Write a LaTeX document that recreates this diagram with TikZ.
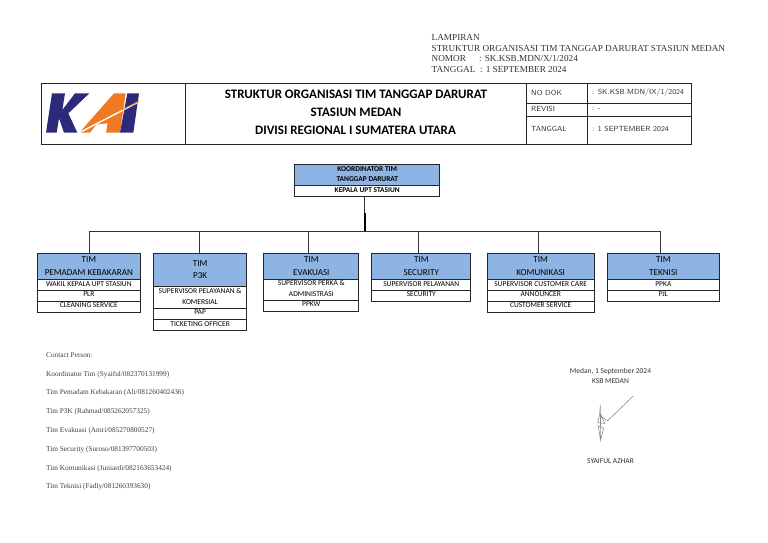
\documentclass[tikz,border=0pt]{standalone}
\usepackage{fontspec}
\setmainfont{Liberation Serif}
\newfontfamily\boxfont{Carlito}
\definecolor{timblue}{HTML}{8DB4E2}
\definecolor{kainavy}{HTML}{2D2A7A}
\definecolor{kaiorange}{HTML}{F07A22}
\tikzset{
  cell/.style={draw=black!85, line width=1pt, anchor=north west, inner sep=0pt, text depth=2.5pt, font=\boxfont\fontsize{7.5}{8.5}\selectfont, align=center},
  headcell/.style={cell, fill=timblue, text depth=1.5pt, font=\boxfont\fontsize{9.1}{12.4}\selectfont},
  link/.style={draw=black!80, line width=1pt},
  frame/.style={draw=black!85, line width=1pt},
  pagetext/.style={anchor=base west, inner sep=0pt, font=\fontsize{9.2}{11}\selectfont, text=black!80},
  contact/.style={anchor=west, inner sep=0pt, font=\fontsize{7.3}{8}\selectfont, text=black!75},
  signtext/.style={inner sep=0pt, font=\boxfont\fontsize{7.5}{8}\selectfont, text=black!80},
  doccell/.style={anchor=west, inner sep=0pt, font=\fontsize{7.4}{8}\selectfont\sffamily, text=black!80},
  titletext/.style={inner sep=0pt, font=\boxfont\bfseries\fontsize{12.95}{15}\selectfont}
}
\begin{document}
\begin{tikzpicture}[x=1pt,y=-1pt]
\useasboundingbox (0,0) rectangle (768,543);
\fill[white] (0,0) rectangle (768,543);
% lampiran
\node[pagetext] (lamp1) at (431.5,40.5) {LAMPIRAN};
\node[pagetext] (lamp2) at (431.5,51.5) {STRUKTUR ORGANISASI TIM TANGGAP DARURAT STASIUN MEDAN};
\node[pagetext] (lamp3) at (431.5,62) {NOMOR};
\node[pagetext] (lamp3b) at (479,62) {: SK.KSB.MDN/X/1/2024};
\node[pagetext] (lamp4) at (431.5,73) {TANGGAL};
\node[pagetext] (lamp4b) at (480,73) {: 1 SEPTEMBER 2024};
% kop
\draw[frame] (41,83.5) rectangle (691,144);
\draw[frame] (185.5,83.5) -- (185.5,144);
\draw[frame] (526,83.5) -- (526,144);
\draw[frame] (587.5,83.5) -- (587.5,144);
\draw[frame] (526,103) -- (691,103);
\draw[frame] (526,116.7) -- (691,116.7);
\node[titletext] (title1) at (356,94.5) {STRUKTUR ORGANISASI TIM TANGGAP DARURAT};
\node[titletext] (title2) at (356,112.5) {STASIUN MEDAN};
\node[titletext] (title3) at (355.5,130.5) {DIVISI REGIONAL I SUMATERA UTARA};
\node[doccell] (nodok) at (531,93) {NO DOK};
\node[doccell] (nodokv) at (592,93) {: SK.KSB.MDN/IX/1/2024};
\node[doccell] (revisi) at (531,108.5) {REVISI};
\node[doccell] (revisiv) at (592,108.5) {: -};
\node[doccell] (tgl) at (531,128.5) {TANGGAL};
\node[doccell] (tglv) at (592,128.5) {: 1 SEPTEMBER 2024};
% logo
\begin{scope}[shift={(40,85)},scale=1/3]
\fill[kainavy] (18,143) -- (36,25) -- (75,25) -- (67,75) -- (105,25) -- (148,25) -- (85,85) -- (112,143) -- (72,143) -- (57,100) -- (50,143) -- cycle;
\fill[kaiorange] (118,143) -- (222,25) -- (257,25) -- (240,143) -- (198,143) -- (203,115) -- (170,118) -- (150,143) -- cycle;
\fill[kainavy] (262,25) -- (297,25) -- (280,143) -- (240,143) -- cycle;
\draw[white, line width=1.4pt] (118,143) -- (240,80) -- (297,50);
\draw[kaiorange, line width=.8pt] (245,75) -- (297,49);
\end{scope}
% koordinator
\node[headcell, minimum width=145pt, minimum height=21pt, font=\boxfont\bfseries\fontsize{7.4}{10.3}\selectfont] (koord) at (294.3,164) {KOORDINATOR TIM\\TANGGAP DARURAT};
\node[cell, minimum width=145pt, minimum height=10.7pt, font=\boxfont\bfseries\fontsize{7.4}{8}\selectfont] (kepala) at (294.3,185) {KEPALA UPT STASIUN};
% tim pemadam
\node[headcell, minimum width=103.3pt, minimum height=26.3pt] (pemadam) at (36.7,253) {TIM\\PEMADAM KEBAKARAN};
\node[cell, minimum width=103.3pt, minimum height=10.4pt] (pemadam1) at (36.7,279.3) {WAKIL KEPALA UPT STASIUN};
\node[cell, minimum width=103.3pt, minimum height=11pt] (pemadam2) at (36.7,289.7) {PLR};
\node[cell, minimum width=103.3pt, minimum height=11pt] (pemadam3) at (36.7,300.7) {CLEANING SERVICE};
% tim p3k
\node[headcell, minimum width=92.7pt, minimum height=33.3pt] (ptiga) at (153.3,253) {TIM\\P3K};
\node[cell, minimum width=92.7pt, minimum height=21.4pt, font=\boxfont\fontsize{7.5}{11}\selectfont] (ptiga1) at (153.3,286.3) {SUPERVISOR PELAYANAN \&\\KOMERSIAL};
\node[cell, minimum width=92.7pt, minimum height=11pt] (ptiga2) at (153.3,307.7) {PAP};
\node[cell, minimum width=92.7pt, minimum height=11.3pt] (ptiga3) at (153.3,318.7) {TICKETING OFFICER};
% tim evakuasi
\node[headcell, minimum width=95pt, minimum height=26.3pt] (evakuasi) at (263.3,253) {TIM\\EVAKUASI};
\node[cell, minimum width=95pt, minimum height=20.4pt, font=\boxfont\fontsize{7.5}{11}\selectfont] (evakuasi1) at (263.3,279.3) {SUPERVISOR PERKA \&\\ADMINISTRASI};
\node[cell, minimum width=95pt, minimum height=11pt] (evakuasi2) at (263.3,299.7) {PPKW};
% tim security
\node[headcell, minimum width=99pt, minimum height=26.3pt] (security) at (371.3,253) {TIM\\SECURITY};
\node[cell, minimum width=99pt, minimum height=10.4pt] (security1) at (371.3,279.3) {SUPERVISOR PELAYANAN};
\node[cell, minimum width=99pt, minimum height=11pt] (security2) at (371.3,289.7) {SECURITY};
% tim komunikasi
\node[headcell, minimum width=107pt, minimum height=26.3pt] (komunikasi) at (486.7,253) {TIM\\KOMUNIKASI};
\node[cell, minimum width=107pt, minimum height=10.4pt] (komunikasi1) at (486.7,279.3) {SUPERVISOR CUSTOMER CARE};
\node[cell, minimum width=107pt, minimum height=11pt] (komunikasi2) at (486.7,289.7) {ANNOUNCER};
\node[cell, minimum width=107pt, minimum height=11pt] (komunikasi3) at (486.7,300.7) {CUSTOMER SERVICE};
% tim teknisi
\node[headcell, minimum width=112.3pt, minimum height=26.3pt] (teknisi) at (606.7,253) {TIM\\TEKNISI};
\node[cell, minimum width=112.3pt, minimum height=10.4pt] (teknisi1) at (606.7,279.3) {PPKA};
\node[cell, minimum width=112.3pt, minimum height=11pt] (teknisi2) at (606.7,289.7) {PJL};
% garis
\coordinate (busmid) at (364.7,231);
\coordinate (thick) at (364.7,213);
\draw[link] (kepala.south -| busmid) -- (busmid);
\draw[draw=black, line width=1.7pt] (thick) -- (busmid);
\coordinate (busleft) at (89,231);
\coordinate (busright) at (660,231);
\draw[link] (busleft) -- (busright);
\foreach \tim/\dropx in {pemadam/89,ptiga/199.7,evakuasi/308.7,security/418.7,komunikasi/538.3,teknisi/660}
  \draw[link] (\dropx,231) -- (\tim.north -| \dropx,231);
% contact
\node[contact] (cp0) at (46,355) {Contact Person:};
\node[contact] (cp1) at (46,374.5) {Koordinator Tim (Syaiful/082370131999)};
\node[contact] (cp2) at (46,393) {Tim Pemadam Kebakaran (Ali/081260402436)};
\node[contact] (cp3) at (46,412) {Tim P3K (Rahmad/085262057325)};
\node[contact] (cp4) at (46,431) {Tim Evakuasi (Amri/085270800527)};
\node[contact] (cp5) at (46,450) {Tim Security (Suroso/081397700503)};
\node[contact] (cp6) at (46,468.5) {Tim Komunikasi (Juniardi/082163653424)};
\node[contact] (cp7) at (46,487) {Tim Teknisi (Fadly/081260393630)};
% tanda tangan
\node[signtext] (tempat) at (610.5,371) {Medan, 1 September 2024};
\node[signtext] (jabatan) at (610.5,381) {KSB MEDAN};
\node[signtext] (nama) at (610.5,461.5) {SYAIFUL AZHAR};
\begin{scope}[shift={(585,390)},scale=1/3]
\draw[black!45, line width=.6pt] (145,18) -- (68,92) -- (52,82) -- (45,70) -- (38,98) -- (60,100) -- (44,72) -- (46,45) -- (47,150) -- (56,115) -- (40,108) -- (46,148);
\end{scope}
\end{tikzpicture}
\end{document}
